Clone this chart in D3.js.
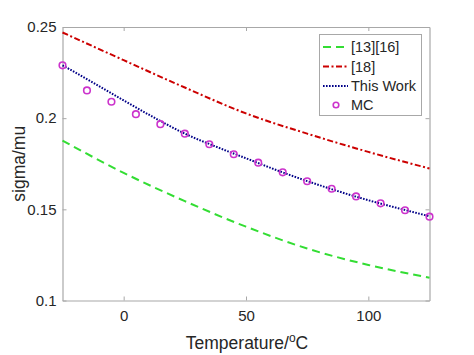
<!DOCTYPE html>
<html><head><meta charset="utf-8">
<script src="https://cdn.jsdelivr.net/npm/d3@7/dist/d3.min.js"></script>
<style>body{margin:0;background:#fff;} svg{display:block;font-family:"Liberation Sans",Arial,sans-serif;}</style>
</head><body>
<svg id="chart" width="474" height="355"></svg>
<script>
// Data
const xTicks = [0, 50, 100];
const yTicks = [0.1, 0.15, 0.2, 0.25];
const curveX = [-25, 0, 25, 50, 75, 100, 125];
const ref1316 = [0.1877, 0.1700, 0.1545, 0.1405, 0.1285, 0.1195, 0.1125];
const ref18   = [0.2470, 0.2318, 0.2168, 0.2026, 0.1915, 0.1815, 0.1724];
const workX = [-25, -12.5, 0, 12.5, 25, 37.5, 50, 62.5, 75, 87.5, 100, 112.5, 125];
const thisWork = [0.2290, 0.2195, 0.2097, 0.2003, 0.1915, 0.1845, 0.1780, 0.1715, 0.1655, 0.1600, 0.1550, 0.1505, 0.1462];
const mcX = [-25, -15, -5, 5, 15, 25, 35, 45, 55, 65, 75, 85, 95, 105, 115, 125];
const mcY = [0.2290, 0.2152, 0.2090, 0.2022, 0.1967, 0.1915, 0.1857, 0.1802, 0.1756, 0.1703, 0.1654, 0.1613, 0.1571, 0.1533, 0.1495, 0.1460];
const legendLabels = ["[13][16]", "[18]", "This Work", "MC"];

const svg = d3.select("#chart");
const L = 62.5, R = 429.5, T = 27, B = 300.5;
const x = d3.scaleLinear().domain([-25, 125]).range([L, R]);
const y = d3.scaleLinear().domain([0.1, 0.25]).range([B, T]);
const axisColor = "#a8a8a8", textColor = "#262626";

function styleAxis(g){
  g.select(".domain").attr("stroke", axisColor).attr("stroke-width", 1.2);
  g.selectAll(".tick line").attr("stroke", axisColor).attr("stroke-width", 1);
  g.selectAll(".tick text").attr("fill", textColor).attr("font-size", 15)
    .attr("font-family", "Liberation Sans, Arial, sans-serif");
}
svg.append("g").attr("transform", `translate(0,${B})`)
  .call(d3.axisBottom(x).tickValues(xTicks).tickSize(-4).tickSizeOuter(0).tickPadding(10).tickFormat(d3.format("d")))
  .call(styleAxis);
svg.append("g").attr("transform", `translate(0,${T})`)
  .call(d3.axisTop(x).tickValues(xTicks).tickSize(-4).tickSizeOuter(0).tickFormat(""))
  .call(styleAxis);
svg.append("g").attr("transform", `translate(${L},0)`)
  .call(d3.axisLeft(y).tickValues(yTicks).tickSize(-4).tickSizeOuter(0).tickPadding(6).tickFormat(d => String(+d.toFixed(2))))
  .call(styleAxis);
svg.append("g").attr("transform", `translate(${R},0)`)
  .call(d3.axisRight(y).tickValues(yTicks).tickSize(-4).tickSizeOuter(0).tickFormat(""))
  .call(styleAxis);

const line = d3.line().curve(d3.curveMonotoneX).x(d => x(d[0])).y(d => y(d[1]));
const styles = [
  {color: "#33dd33", dash: "8,5", width: 2},
  {color: "#cc0000", dash: "6,2.5,2,2.5", width: 2},
  {color: "#000088", dash: "1.6,1.4", width: 2},
];
const series = [
  curveX.map((v, i) => [v, ref1316[i]]),
  curveX.map((v, i) => [v, ref18[i]]),
  workX.map((v, i) => [v, thisWork[i]]),
];
series.forEach((s, i) => {
  svg.append("path").datum(s).attr("d", line).attr("fill", "none")
    .attr("stroke", styles[i].color).attr("stroke-width", styles[i].width)
    .attr("stroke-dasharray", styles[i].dash);
});
svg.append("g").selectAll("circle").data(mcX.map((v, i) => [v, mcY[i]])).join("circle")
  .attr("cx", d => x(d[0])).attr("cy", d => y(d[1])).attr("r", 3.3)
  .attr("fill", "none").attr("stroke", "#cc33cc").attr("stroke-width", 1.6);

// Legend
const lg = svg.append("g");
lg.append("rect").attr("x", 319.5).attr("y", 34.5).attr("width", 102).attr("height", 81)
  .attr("fill", "#fff").attr("stroke", "#a8a8a8").attr("stroke-width", 1);
const rowY = [47, 66.5, 86, 105];
legendLabels.forEach((lab, i) => {
  if (i < 3) {
    lg.append("line").attr("x1", 323).attr("x2", 348).attr("y1", rowY[i]).attr("y2", rowY[i])
      .attr("stroke", styles[i].color).attr("stroke-width", styles[i].width)
      .attr("stroke-dasharray", styles[i].dash);
  } else {
    lg.append("circle").attr("cx", 336).attr("cy", rowY[i]).attr("r", 2.8)
      .attr("fill", "none").attr("stroke", "#cc33cc").attr("stroke-width", 1.6);
  }
  lg.append("text").attr("x", 351).attr("y", rowY[i]).attr("dy", "0.35em")
    .attr("font-size", 14.5).attr("fill", textColor).text(lab);
});

// Axis titles
const xt = svg.append("text").attr("x", (L + R) / 2 + 1).attr("y", 349).attr("text-anchor", "middle")
  .attr("font-size", 17.5).attr("fill", textColor);
xt.append("tspan").text("Temperature/");
xt.append("tspan").attr("font-size", 12).attr("dy", -7).text("o");
xt.append("tspan").attr("dy", 7).text("C");
svg.append("text").attr("transform", `translate(25,${(T + B) / 2}) rotate(-90)`)
  .attr("text-anchor", "middle").attr("font-size", 17.5).attr("fill", textColor).text("sigma/mu");
</script>
</body></html>
